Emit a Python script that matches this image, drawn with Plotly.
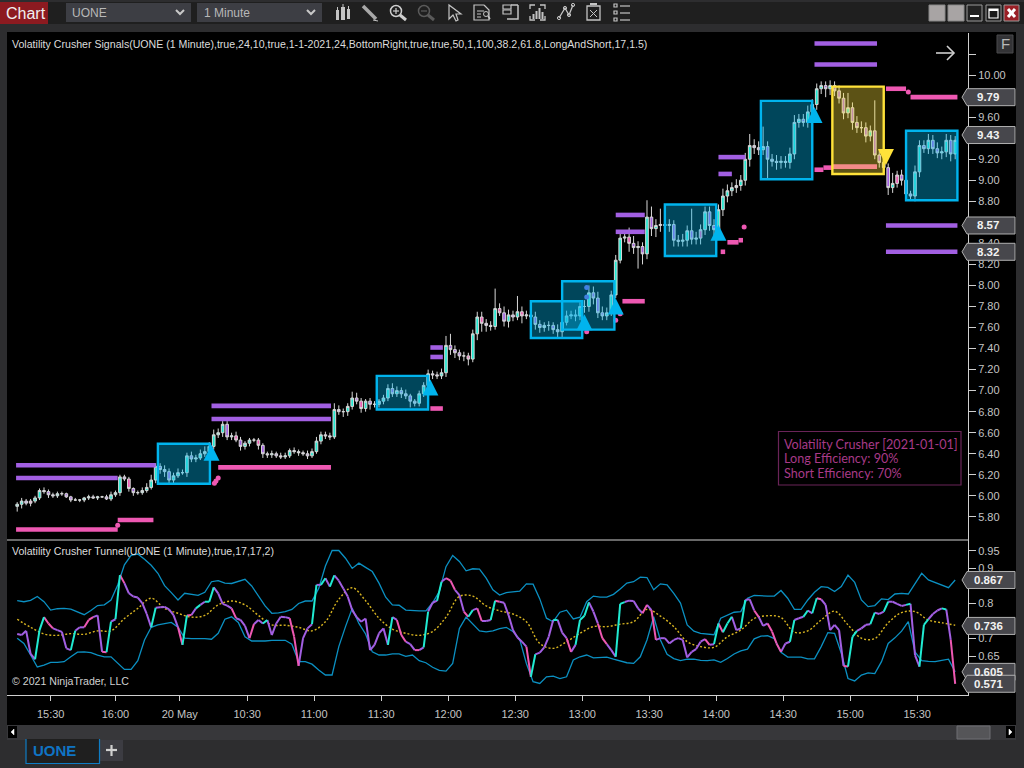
import plotly.graph_objects as go

W, H = 1024, 768

# ---------- price data (one sample every two 1-minute bars) ----------
bar_start, bar_step = -15, 2
closes = [
 5.92,5.95,5.93,5.95,5.98,6.05,6.04,6.01,6.00,6.02,6.02,5.99,5.96,5.96,5.96,5.98,5.99,5.98,5.99,5.99,5.97,6.01,6.03,6.18,6.16,
 6.07,6.03,6.03,6.05,6.08,6.15,6.28,6.25,6.23,6.15,6.19,6.22,6.22,6.38,6.35,6.36,6.40,6.42,6.47,6.58,6.60,6.68,6.56,6.57,6.53,
 6.47,6.50,6.53,6.53,6.48,6.40,6.39,6.40,6.38,6.37,6.38,6.43,6.42,6.41,6.40,6.38,6.42,6.52,6.58,6.57,6.56,6.82,6.80,
 6.80,6.85,6.93,6.90,6.83,6.90,6.87,6.87,6.90,6.93,7.02,6.97,7.00,6.97,6.95,6.90,6.88,6.97,7.05,7.16,7.15,7.14,7.17,7.43,7.39,
 7.36,7.33,7.33,7.30,7.54,7.70,7.64,7.62,7.61,7.78,7.74,7.66,7.72,7.70,7.75,7.71,7.72,7.70,7.63,7.60,7.62,7.62,7.58,7.56,7.65,
 7.71,7.72,7.71,7.80,7.80,7.93,7.88,7.74,7.71,7.74,7.91,8.24,8.45,8.46,8.40,8.36,8.37,8.30,8.65,8.54,8.57,8.58,8.57,8.58,8.43,8.42,
 8.43,8.52,8.44,8.45,8.53,8.70,8.57,8.53,8.72,8.85,8.90,8.93,8.95,9.00,9.20,9.33,9.31,9.29,9.32,9.20,9.18,9.17,9.18,9.17,9.25,
 9.55,9.58,9.55,9.65,9.72,9.87,9.90,9.87,9.90,9.85,9.78,9.64,9.69,9.55,9.50,9.50,9.42,9.47,9.24,9.17,9.12,8.93,8.97,9.05,9.00,
 8.87,8.85,9.08,9.33,9.30,9.38,9.30,9.26,9.27,9.38,9.25,9.38,
]
first_open = 5.90
upper_wicks = [
 .02,.03,.02,.02,.02,.02,.03,.02,.02,.02,.02,.01,.01,.02,.01,.01,.02,.02,.01,.01,.02,.03,.02,.02,.02,.02,.01,.02,.03,.04,
 .05,.03,.03,.04,.03,.03,.04,.03,.03,.04,.03,.04,.05,.04,.05,.04,.03,.03,.03,.04,.03,.02,.02,.02,.02,.02,.02,.03,.02,.03,
 .03,.02,.03,.02,.02,.03,.03,.04,.03,.03,.03,.06,.04,
 .03,.03,.06,.05,.03,.02,.03,.03,.02,.03,.04,.05,.04,.03,.04,.02,.02,.03,.03,.04,.03,.03,.04,.09,.11,.04,.03,.04,.03,.04,
 .05,.05,.04,.04,.19,.05,.06,.05,.04,.15,.05,.04,.03,.05,.04,.03,.04,.03,.05,.04,.05,.04,.05,.04,.06,.07,.06,.06,.06,.05,
 .04,.05,.05,.05,.09,.07,.05,.04,.16,.10,.06,.15,.06,.05,.04,.05,
 .06,.05,.21,.06,.05,.05,.05,.06,.05,.07,.06,.05,.06,.05,.06,.11,.06,.06,.19,.05,.05,.06,.05,.05,.06,.07,.05,.05,.06,.05,
 .05,.04,.04,.05,.04,.05,.05,.14,.05,.06,.06,.05,.05,.29,.05,.04,.04,.10,.04,.05,.05,.03,.06,.05,.05,.06,.05,.06,.05,.06,.05,.04,
]
lower_wicks = [
 .05,.04,.02,.03,.02,.02,.02,.03,.02,.02,.02,.01,.02,.01,.02,.02,.02,.01,.02,.01,.01,.02,.02,.03,.02,.03,.03,.02,.02,.02,
 .02,.03,.04,.05,.03,.04,.02,.02,.04,.03,.03,.02,.03,.02,.03,.03,.04,.03,.03,.02,.04,.03,.03,.02,.04,.04,.03,.03,.02,.02,
 .02,.02,.02,.03,.02,.03,.02,.02,.03,.03,.03,.02,.03,
 .05,.04,.03,.03,.04,.03,.05,.03,.03,.03,.03,.03,.03,.04,.03,.06,.03,.03,.03,.03,.04,.03,.03,.04,.05,.05,.04,.05,.06,.03,
 .06,.08,.06,.04,.03,.03,.05,.06,.04,.03,.07,.03,.04,.05,.05,.04,.05,.04,.05,.05,.03,.03,.05,.04,.06,.05,.06,.05,.04,.04,
 .03,.03,.03,.04,.08,.06,.20,.10,.05,.07,.08,.06,.07,.06,.06,.05,
 .05,.06,.05,.05,.06,.05,.05,.06,.05,.06,.06,.05,.05,.05,.05,.07,.06,.05,.05,.18,.05,.07,.06,.05,.06,.05,.05,.04,.05,.06,
 .05,.05,.08,.06,.05,.05,.06,.05,.07,.05,.05,.06,.05,.04,.05,.04,.07,.05,.04,.05,.06,.04,.05,.05,.04,.05,.05,.05,.06,.05,.07,.05,
]
pink_candles = [3,25,49,54,59,77,80,101,104,108,113,119,137,144,153,161,197]

# ---------- oscillator panel ----------
osc_main = [
 .713,.710,.722,.656,.641,.724,.761,.743,.729,.724,.719,.672,.667,.722,.732,.732,.753,.761,.766,.662,.661,.748,.755,.881,.858,
 .829,.820,.817,.801,.770,.732,.788,.789,.790,.783,.767,.732,.682,.766,.767,.786,.796,.805,.805,.846,.829,.799,.794,.786,.758,
 .753,.736,.701,.741,.753,.743,.753,.710,.743,.762,.761,.758,.705,.622,.701,.729,.741,.853,.853,.872,.848,.880,.865,
 .843,.820,.781,.761,.748,.757,.667,.682,.715,.729,.682,.761,.753,.710,.691,.684,.667,.667,.675,.777,.802,.808,.862,.872,.865,
 .839,.824,.777,.762,.781,.786,.750,.750,.753,.808,.805,.802,.767,.724,.703,.691,.677,.591,.655,.660,.675,.705,.753,.753,.717,
 .701,.662,.682,.753,.765,.803,.777,.743,.701,.684,.667,.648,.799,.804,.808,.807,.786,.772,.796,.781,.696,.701,.701,.686,.696,.701,
 .696,.646,.662,.670,.691,.698,.682,.684,.743,.718,.743,.762,.724,.729,.810,.812,.780,.762,.736,.743,.720,.686,.662,.686,.691,
 .753,.758,.762,.780,.772,.815,.812,.796,.724,.739,.724,.622,.620,.705,.722,.729,.739,.741,.774,.770,.777,.805,.805,.799,.793,
 .796,.799,.653,.620,.739,.755,.770,.780,.786,.783,.696,.571,
]
osc_state = (
 "pppppccmmppppcppmmppmcpcmppppppcpppppmcmpcpccppppmpppmppcpppppmmpppcpcpcp"
 "pppppppppppcpmmppmpcppcpmmppmcpmppcmppppppmcppppcppmpcccppmmppccppppmpmppppp"
 "ppppppmpcmccppcppmppmmmppcppcpcmpppppmccpppcppcppppcppccpppcpm"
)
osc_step = 3
tunnel_upper = [
 .808,.805,.809,.820,.805,.781,.785,.786,.784,.776,.768,.780,.794,.796,.810,.853,.910,.937,.941,.926,.909,.886,.851,.831,.810,.829,.826,.823,.832,.862,
 .865,.858,.857,.862,.869,.850,.821,.793,.772,.773,.777,.783,.800,.807,.807,.843,.907,.951,.951,
 .929,.900,.915,.903,.891,.858,.818,.796,.795,.781,.779,.779,.779,.802,.834,.905,.937,.920,.893,.899,.898,.872,.839,.824,.831,.834,.835,.856,.855,.813,
 .758,.748,.775,.781,.756,.761,.805,.821,.818,.818,.826,.841,.858,.862,.875,.874,.839,.856,.853,.829,.801,
 .739,.721,.715,.713,.711,.758,.767,.775,.777,.815,.823,.821,.821,.821,.837,.815,.783,.783,.810,.832,.848,.846,.834,.848,.881,.860,.810,.791,.794,.813,
 .811,.827,.829,.827,.858,.886,.867,.860,.853,.845,.867,
]
tunnel_lower = [
 .701,.686,.653,.619,.624,.632,.632,.634,.648,.661,.662,.660,.653,.648,.648,.631,.612,.612,.637,.696,.732,.739,.743,.746,.732,.701,.700,.701,.700,.698,
 .715,.755,.762,.746,.705,.693,.692,.693,.695,.694,.695,.684,.634,.634,.627,.610,.596,.596,.677,
 .734,.786,.743,.713,.662,.653,.653,.656,.656,.649,.653,.637,.631,.618,.609,.607,.629,.729,.761,.741,.722,.719,.722,.728,.732,.720,.698,.629,.577,.572,
 .591,.593,.586,.591,.639,.648,.653,.645,.646,.647,.641,.635,.631,.629,.648,.696,.762,.696,.655,.643,.637,
 .641,.641,.638,.637,.639,.632,.643,.656,.665,.670,.699,.707,.708,.700,.661,.647,.647,.647,.642,.642,.677,.717,.715,.658,.586,.579,.596,.602,.600,.634,
 .686,.702,.721,.748,.662,.637,.635,.634,.638,.641,.605,
]
mid_step = 6
tunnel_mid = [
 .755,.732,.713,.709,.714,.712,.722,.722,.757,.786,.815,.786,.772,.761,.766,.796,.807,.796,.766,.739,.738,.732,.722,.748,.812,
 .845,.808,.758,.727,.715,.709,.720,.761,.820,.821,.793,.779,.770,.748,.686,.672,.691,.715,.734,.734,.741,.748,.783,.764,.734,
 .691,.677,.675,.705,.724,.757,.765,.760,.718,.722,.753,.778,.739,.701,.700,.745,.774,.777,.753,.745,.738,
]

# ---------- signal levels ----------
long_starts = [-15.5,-15.5,72,72,170,170,253,253,299,299,342,342,374,374]
long_ends   = [47,30,125.5,125.5,175.6,175.6,266,266,311,305,370,370,406,406]
long_prices = [6.29,6.17,6.855,6.73,7.41,7.32,8.67,8.51,9.22,9.06,10.30,10.10,8.57,8.32]
short_starts = [-15.5,30,75,170,256,300,303,308,342,346,350,374,385]
short_ends   = [30,46,125.5,175.6,266,302,308,310,346,350,370,383,406]
short_prices = [5.68,5.77,6.27,6.83,7.85,8.32,8.41,8.43,9.10,9.12,9.13,9.87,9.79]
dot_bars   = [30,73.3,74,75,240,253,255,310.5,384]
dot_prices = [5.72,6.12,6.14,6.17,7.56,7.67,7.73,8.556,9.84]
blue_dot_bars   = [240,240]
blue_dot_prices = [7.98,7.89]

box_starts = [48,146,215,229,275,318,383]
box_ends   = [71.3,169,238,252.4,298,341,406]
box_tops   = [6.495,7.14,7.85,8.04,8.77,9.755,9.47]
box_bots   = [6.115,6.82,7.50,7.58,8.28,9.01,8.81]
short_box = (350,373,9.89,9.06)
up_bars   = [72,170,239,253,299,342]
up_prices = [6.41,7.03,7.65,7.80,8.50,9.62]
down_bars   = [374]
down_prices = [9.22]

# ---------- axes ----------
time_ticks  = [0,29,57.8,88,118,148,178,208,238,268,298,328,358,388]
time_labels = ["15:30","16:00","20 May","10:30","11:00","11:30","12:00","12:30","13:00","13:30","14:00","14:30","15:00","15:30"]
price_ticks  = [5.8,6.0,6.2,6.4,6.6,6.8,7.0,7.2,7.4,7.6,7.8,8.0,8.2,8.4,8.6,8.8,9.0,9.2,9.4,9.6,9.8,10.0,10.2]
price_labels = ["5.80","6.00","6.20","6.40","6.60","6.80","7.00","7.20","7.40","7.60","7.80","8.00","8.20","8.40","","8.80","9.00","9.20","","9.60","","10.00",""]
osc_ticks  = [.65,.7,.75,.8,.85,.9,.95]
osc_labels = ["0.65","0.7","","0.8","","0.9","0.95"]
price_flags = [9.79,9.43,8.57,8.32]
osc_flags   = [0.867,0.736,0.605,0.571]

# ---------- colours ----------
BLUE="#00b4ee"; PURPLE="#a25fe2"; PINK="#ee58b2"; CYAN="#20ead2"; TUNNEL="#0b90c2"; GOLD="#d8b420"
WICK="#d8d8d8"; TXT="#d4d4d4"; AX="#cfcfcf"

# ---------- derived ----------
n = len(closes)
assert n == len(upper_wicks) == len(lower_wicks) == len(osc_main) == len(osc_state)
bars = [bar_start + bar_step*i for i in range(n)]
opens = [first_open] + closes[:-1]
highs = [max(o,c)+u for o,c,u in zip(opens,closes,upper_wicks)]
lows  = [min(o,c)-l for o,c,l in zip(opens,closes,lower_wicks)]

fig = go.Figure()
def candles(idx, up, down):
    fig.add_trace(go.Candlestick(
        x=[bars[i] for i in idx], open=[opens[i] for i in idx], high=[highs[i] for i in idx],
        low=[lows[i] for i in idx], close=[closes[i] for i in idx],
        increasing=dict(fillcolor=up, line=dict(color=WICK, width=1)),
        decreasing=dict(fillcolor=down, line=dict(color=WICK, width=1)),
        whiskerwidth=0, hoverinfo="skip", showlegend=False, xaxis="x", yaxis="y"))
plain = [i for i in range(n) if i not in pink_candles]
candles(plain, CYAN, PURPLE)
candles(pink_candles, PINK, PINK)

def segments(starts, ends, prices):
    xs, ys = [], []
    for a,b,p in zip(starts, ends, prices):
        xs += [a,b,None]; ys += [p,p,None]
    return xs, ys
for st,en,pr,col in ((long_starts,long_ends,long_prices,PURPLE),(short_starts,short_ends,short_prices,PINK)):
    xs,ys = segments(st,en,pr)
    fig.add_trace(go.Scatter(x=xs,y=ys,mode="lines",line=dict(color=col,width=4.6),hoverinfo="skip",showlegend=False,yaxis="y",connectgaps=False))
fig.add_trace(go.Scatter(x=dot_bars,y=dot_prices,mode="markers",marker=dict(color=PINK,size=5),hoverinfo="skip",showlegend=False,yaxis="y"))
fig.add_trace(go.Scatter(x=blue_dot_bars,y=blue_dot_prices,mode="markers",marker=dict(color="#6a5fd8",size=5),hoverinfo="skip",showlegend=False,yaxis="y"))

# oscillator traces
osc_x = [bar_start + osc_step*i for i in range(len(tunnel_upper))]
mid_x = [bar_start + mid_step*i for i in range(len(tunnel_mid))]
fig.add_trace(go.Scatter(x=mid_x,y=tunnel_mid,mode="lines",line=dict(color=GOLD,width=1.4,dash="2px,2px",shape="spline"),hoverinfo="skip",showlegend=False,yaxis="y2"))
for vals in (tunnel_upper,tunnel_lower):
    fig.add_trace(go.Scatter(x=osc_x,y=vals,mode="lines",line=dict(color=TUNNEL,width=1.3),hoverinfo="skip",showlegend=False,yaxis="y2"))
for code,col in (("p",PURPLE),("m",PINK),("c",CYAN)):
    xs,ys=[],[]
    for i in range(1,n):
        if osc_state[i]==code:
            xs += [bars[i-1],bars[i],None]; ys += [osc_main[i-1],osc_main[i],None]
    fig.add_trace(go.Scatter(x=xs,y=ys,mode="lines",line=dict(color=col,width=2),hoverinfo="skip",showlegend=False,yaxis="y2"))

# ---------- pixel helpers for window furniture ----------
def fx(x): return x/W
def fy(y): return 1-y/H
shapes=[]; notes=[]
def rect(x0,y0,x1,y1,fill,line=None,lw=1,layer="below"):
    shapes.append(dict(type="rect",xref="paper",yref="paper",x0=fx(x0),x1=fx(x1),y0=fy(y0),y1=fy(y1),
        fillcolor=fill,line=dict(color=line or "rgba(0,0,0,0)",width=lw if line else 0),layer=layer))
def seg(x0,y0,x1,y1,col,lw=1,layer="above"):
    shapes.append(dict(type="line",xref="paper",yref="paper",x0=fx(x0),x1=fx(x1),y0=fy(y0),y1=fy(y1),line=dict(color=col,width=lw),layer=layer))
def poly(pts,col,lw=1,fill=None,close=False,layer="above"):
    d="M "+" L ".join(f"{fx(a):.5f},{fy(b):.5f}" for a,b in pts)+(" Z" if close else "")
    shapes.append(dict(type="path",xref="paper",yref="paper",path=d,line=dict(color=col,width=lw),fillcolor=fill or "rgba(0,0,0,0)",layer=layer))
def circ(cx,cy,r,col,lw=1.5):
    shapes.append(dict(type="circle",xref="paper",yref="paper",x0=fx(cx-r),x1=fx(cx+r),y0=fy(cy-r),y1=fy(cy+r),line=dict(color=col,width=lw),layer="above"))
def label(t,x,y,size=12,col=TXT,anchor="left",fam="Liberation Sans",bold=False):
    notes.append(dict(text=f"<b>{t}</b>" if bold else t,xref="paper",yref="paper",x=fx(x),y=fy(y),xanchor=anchor,yanchor="middle",
        showarrow=False,font=dict(size=size,color=col,family=fam),borderpad=0,borderwidth=0))

# window background
rect(0,0,1024,768,"#2d2d2f")
rect(0,2,1024,24,"#1f1f1f")
rect(7,32,1016,725,"#000000")
rect(7,725,1016,740,"#37373a")
rect(8,726,17,738,"#000000")
poly([(14,729),(14,735),(11,732)],"#ffffff",0.5,"#ffffff",True,"below")
rect(1006,726,1015,738,"#000000")
poly([(1009,729),(1009,735),(1012,732)],"#ffffff",0.5,"#ffffff",True,"below")
rect(957,726,990,739,"#555558","#6f6f72")

# title bar
rect(0,2,48,24,"#8c1a20")
label("Chart",6,13,16,"#f0f0f0")
rect(66,3,191,22,"#3d3e44"); label("UONE",72,13,12,"#b8b8b8")
poly([(176,10),(180,14),(184,10)],"#c8c8c8",2)
rect(197,3,322,22,"#3d3e44"); label("1 Minute",204,13,12,"#b8b8b8")
poly([(307,10),(311,14),(315,10)],"#c8c8c8",2)

IC="#c4c4c4"
rect(336,10,339,20,IC,layer="above"); seg(337.5,7,337.5,10,IC)
rect(341,7,345,20,IC,layer="above"); seg(343,4,343,7,IC)
rect(347,9,350,19,IC,layer="above"); seg(348.5,6,348.5,9,IC)
seg(363,6,376,19,"#a8a8a8",3.5); seg(373,20,378,21,IC,1)
for cx,col,plus in ((396,"#cfcfcf",True),(424,"#5a5a5a",False)):
    circ(cx,11,5.5,col); seg(cx+4,15,cx+10,20,col,3); seg(cx-3,11,cx+3,11,col,1.2)
    if plus: seg(cx,8,cx,14,col,1.2)
poly([(449,5),(449,19),(453,15),(456,21),(458,20),(456,14),(461,14)],IC,1.2,None,True)
poly([(484,5),(474,5),(474,20),(489,20),(489,10),(484,5)],IC,1.2)
seg(477,11,484,11,IC); seg(477,14,481,14,IC); seg(477,17,481,17,IC); circ(486,14,2.5,IC,1); seg(488,16,490,19,IC,1.5)
poly([(518,5),(518,19),(507,19)],IC,1.5); rect(503,5,511,9,"rgba(0,0,0,0)",IC,1.2,"above"); rect(503,10,511,14,"rgba(0,0,0,0)",IC,1.2,"above"); seg(511,5,518,5,IC,1.5)
poly([(530,9),(530,5),(535,5)],IC,1.3); poly([(540,5),(545,5),(545,9)],IC,1.3); poly([(530,16),(530,20),(535,20)],IC,1.3); poly([(540,20),(545,20),(545,16)],IC,1.3)
for xb,top in ((532.5,14),(535.5,11),(538.5,8),(541.5,12)):
    rect(xb,top,xb+2,19,IC,layer="above")
poly([(559,18),(565,8),(569,15),(573,5)],IC,1.3)
for a,b in ((559,18),(565,8),(569,15),(573,5)):
    circ(a,b,1.6,IC,1)
rect(587,6,600,20,"rgba(0,0,0,0)",IC,1.3,"above"); seg(590,4,597,4,IC,2); seg(590,10,597,17,IC,1); seg(597,10,590,17,IC,1)
for yy in (6,13,20):
    rect(614,yy-2,617,yy+1,"rgba(0,0,0,0)",IC,1.2,"above"); seg(620,yy,630,yy,IC,1.2)

# window buttons
rect(929,5,945,21,"#a8a4a4","#888888"); rect(948,5,964,21,"#a8a4a4","#888888")
rect(967,5,982,21,"#222222","#999999"); seg(970,16,979,16,"#ffffff",2)
rect(986,5,1001,21,"#1a1a1a","#999999"); rect(989,9,998,18,"rgba(0,0,0,0)","#ffffff",1.2,"above"); seg(989,10,998,10,"#ffffff",2)
rect(1004,5,1019,21,"#9a2026","#999999"); seg(1008,9,1015,17,"#ffffff",3); seg(1015,9,1008,17,"#ffffff",3)

# tabs
rect(26,739,100,764,"#1f1f1f",None); poly([(26,739),(26,763.5),(99.5,763.5),(99.5,739)],"#0f7cc4",1.2)
label("UONE",33,750,15,"#0f74c4",bold=True)
rect(100,740,123,761,"#3c3c42"); seg(106,750,117,750,"#d0d0d0",2.2); seg(111.5,745,111.5,756,"#d0d0d0",2.2)

# signal boxes (data coordinates)
for a,b,t,bt in zip(box_starts,box_ends,box_tops,box_bots):
    shapes.append(dict(type="rect",xref="x",yref="y",x0=a,x1=b,y0=bt,y1=t,fillcolor="rgba(0,183,240,0.38)",line=dict(color=BLUE,width=2.4),layer="above"))
a,b,t,bt = short_box
shapes.append(dict(type="rect",xref="x",yref="y",x0=a,x1=b,y0=bt,y1=t,fillcolor="rgba(255,226,58,0.36)",line=dict(color="#ffe23a",width=2.4),layer="above"))

# triangles anchored on the data
for a,p in zip(up_bars,up_prices):
    shapes.append(dict(type="path",xref="x",yref="y",xsizemode="pixel",ysizemode="pixel",xanchor=a,yanchor=p,
        path="M -8 -8 L 8 -8 L 0 8 Z",fillcolor=BLUE,line=dict(width=0),layer="above"))
for a,p in zip(down_bars,down_prices):
    shapes.append(dict(type="path",xref="x",yref="y",xsizemode="pixel",ysizemode="pixel",xanchor=a,yanchor=p,
        path="M -8 8 L 8 8 L 0 -8 Z",fillcolor="#ffe23a",line=dict(width=0),layer="above"))

# separators
seg(7,540,968,540,AX,1.2)

# value flags
def flag(v,yref,txt):
    shapes.append(dict(type="path",xref="paper",yref=yref,xsizemode="pixel",ysizemode="pixel",xanchor=fx(962),yanchor=v,
        path="M 0 0 L 5 -8.5 L 53 -8.5 L 53 8.5 L 5 8.5 Z",fillcolor="#47474c",line=dict(color="#b0b0b0",width=1),layer="above"))
    notes.append(dict(text=f"<b>{txt}</b>",xref="paper",yref=yref,x=fx(988),y=v,xanchor="center",yanchor="middle",showarrow=False,font=dict(size=11.5,color="#f2f2f2",family="Liberation Sans")))
for v in price_flags: flag(v,"y",f"{v:.2f}")
for v in osc_flags: flag(v,"y2",f"{v:.3f}")

# F button and arrow
rect(997,35,1013,53,"#333336","#4a4a4d",1,"above"); label("F",1005,44,15,"#b8b8b8",anchor="center")
seg(936,53,953,53,"#d0d0d0",1.6); poly([(947,46),(954,53),(947,60)],"#d0d0d0",1.6)

# info box
rect(778.5,431.5,961,485,"#000000","#6a2458",1.2,"above")
PK="#a83a88"
label("Volatility Crusher [2021-01-01]",784,444,12.6,PK,fam="Lato")
label("Long Efficiency: 90%",784,458,12.6,PK,fam="Lato")
label("Short Efficiency: 70%",784,473,12.6,PK,fam="Lato")

# headers
label("Volatility Crusher Signals(UONE (1 Minute),true,24,10,true,1-1-2021,24,BottomRight,true,true,50,1,100,38.2,61.8,LongAndShort,17,1.5)",12,44,10.6,"#dcdcdc")
label("Volatility Crusher Tunnel(UONE (1 Minute),true,17,17,2)",12,551,10.6,"#dcdcdc")
label("© 2021 NinjaTrader, LLC",12,681,10.6,"#d0d0d0")

axfont=dict(size=11,color="#c4c4c4",family="Liberation Sans")
px_per_bar = 2.2333; x0_px = 50.7
fig.update_layout(
    width=W,height=H,autosize=False,margin=dict(l=0,r=0,t=0,b=0,pad=0),
    paper_bgcolor="#2d2d2f",plot_bgcolor="#000000",showlegend=False,hovermode=False,
    shapes=shapes,annotations=notes,dragmode=False,boxgap=0.15,
    xaxis=dict(domain=[7/W,968/W],range=[(7-x0_px)/px_per_bar,(968-x0_px)/px_per_bar],anchor="y2",
        tickmode="array",tickvals=time_ticks,ticktext=time_labels,ticks="outside",ticklen=5,tickcolor=AX,tickfont=axfont,
        showgrid=False,zeroline=False,showline=True,linecolor=AX,linewidth=1,rangeslider=dict(visible=False),ticklabelstandoff=4),
    yaxis=dict(domain=[1-540/H,1-33/H],range=[5.58,10.40],side="right",anchor="x",
        tickmode="array",tickvals=price_ticks,ticktext=price_labels,ticks="outside",ticklen=7,tickcolor=AX,tickfont=axfont,
        showgrid=False,zeroline=False,showline=True,linecolor=AX,linewidth=1),
    yaxis2=dict(domain=[1-695/H,1-540/H],range=[0.539,0.981],side="right",anchor="x",
        tickmode="array",tickvals=osc_ticks,ticktext=osc_labels,ticks="outside",ticklen=7,tickcolor=AX,tickfont=axfont,
        showgrid=False,zeroline=False,showline=True,linecolor=AX,linewidth=1),
)
fig.write_html("out.html",config=dict(displayModeBar=False,staticPlot=True),
    post_script="document.body.style.margin='0';document.body.style.overflow='hidden';document.documentElement.style.overflow='hidden';")
